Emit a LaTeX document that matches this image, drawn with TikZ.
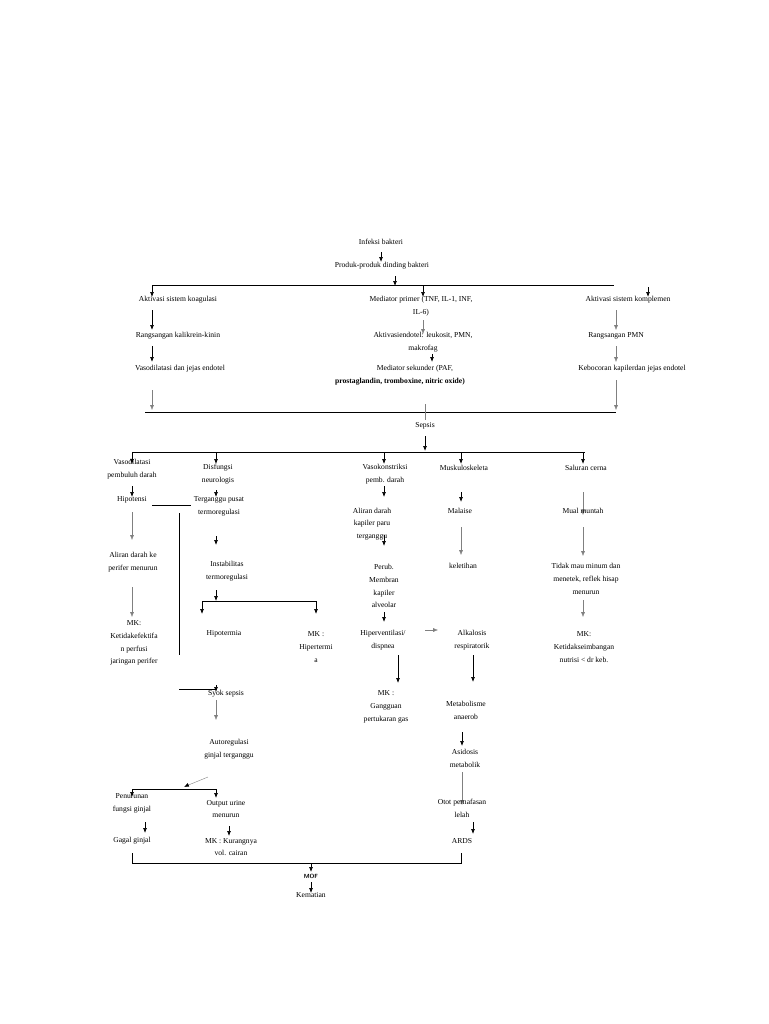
\documentclass[tikz,border=0pt]{standalone}
\usepackage{fontspec}
\setmainfont{Liberation Serif}
\begin{document}
\begin{tikzpicture}[x=1pt,y=-1pt,
  t/.style={inner sep=0pt,align=center,font=\fontsize{7.6}{12.8}\selectfont},
  a/.style={-{Latex[length=5pt,width=4pt]},line width=0.7pt},
  ag/.style={-{Latex[length=5pt,width=4pt]},line width=0.4pt,gray},
  ln/.style={line width=0.7pt}]
\useasboundingbox (0,0) rectangle (768,1024);
\usetikzlibrary{arrows.meta}
% top
\node[t] (inf) at (381,242) {Infeksi bakteri};
\node[t] (prod) at (382,266) {Produk-produk dinding bakteri};
\draw[a] (381,252) -- (381,262);
\draw[a] (395,276) -- (395,286);
\draw[ln] (152,285) -- (614,285);
\draw[a] (152,285) -- (152,297);
\draw[a] (423,285) -- (423,297);
\draw[a] (648,287) -- (648,297);
\node[t] (koag) at (178,300) {Aktivasi sistem koagulasi};
\node[t] (med) at (421,306) {Mediator primer (TNF, IL-1, INF,\\IL-6)};
\node[t] (komp) at (628,300) {Aktivasi sistem komplemen};
\draw[a] (152,310) -- (152,330);
\node[t] (kal) at (178,336) {Rangsangan kalikrein-kinin};
\draw[a] (152,346) -- (152,362);
\node[t] (vaso) at (180,369) {Vasodilatasi dan jejas endotel};
\draw[ag] (423,320) -- (423,334);
\node[t] (akt) at (423,342) {Aktivasiendotel: leukosit, PMN,\\makrofag};
\draw[a] (432,354) -- (432,362);
\node[t] (ms) at (400,375) {\hspace*{30pt}Mediator sekunder (PAF,\\\textbf{prostaglandin, tromboxine, nitric oxide)}};
\draw[ag] (616,310) -- (616,330);
\node[t] (rpmn) at (616,336) {Rangsangan PMN};
\draw[ag] (616,346) -- (616,362);
\node[t] (kebo) at (632,369) {Kebocoran kapilerdan jejas endotel};
\draw[ag] (152,390) -- (152,410);
\draw[ag] (616,380) -- (616,410);
\draw[ln] (145,412) -- (616,412);
\draw[gray] (425,404) -- (425,420);
\node[t] (sep) at (425,426) {Sepsis};
\draw[a] (425,436) -- (425,451);
\draw[ln] (132,452) -- (585,452);
\foreach \x in {132,216,384,461,583} \draw[a] (\x,452) -- (\x,464);
% col 1
\node[t] (vd) at (132,469) {Vasodilatasi\\pembuluh darah};
\draw[a] (132,486) -- (132,497);
\node[t] (hipo) at (132,500) {Hipotensi};
\draw (152,505) -- (191,505);
\draw[ag] (132,512) -- (132,540);
\node[t] (alir) at (133,562) {Aliran darah ke\\perifer menurun};
\draw[ag] (132,587) -- (132,617);
\node[t] (mk1) at (134,643) {MK:\\Ketidakefektifa\\n perfusi\\jaringan perifer};
\draw[ln] (179,513) -- (179,655);
% col 2
\node[t] (dis) at (218,474) {Disfungsi\\neurologis};
\draw[a] (216,490) -- (216,497);
\node[t] (terg) at (219,506) {Terganggu pusat\\termoregulasi};
\draw[a] (216,536) -- (216,545);
\node[t] (inst) at (227,571) {Instabilitas\\termoregulasi};
\draw[a] (216,590) -- (216,601);
\draw[ln] (202,601) -- (316,601);
\draw[a] (202,601) -- (202,614);
\draw[a] (316,601) -- (316,614);
\node[t] (hter) at (224,634) {Hipotermia};
\node[t] (mkh) at (316,647) {MK :\\Hipertermi\\a};
% syok
\draw[ln] (179,689) -- (216,689);
\node[t] (syok) at (226,694) {Syok sepsis};
\draw[a] (216,685) -- (216,692);
\draw[ag] (216,700) -- (216,720);
\node[t] (auto) at (229,749) {Autoregulasi\\ginjal terganggu};
\draw[gray] (208,777) -- (186,786);
\draw[a] (186,786) -- (184,787);
\draw[ln] (132,789) -- (216,789);
\draw[a] (132,789) -- (132,797);
\draw[a] (216,789) -- (216,798);
\node[t] (pen) at (132,803) {Penurunan\\fungsi ginjal};
\node[t] (out) at (226,809) {Output urine\\menurun};
\draw[a] (145,822) -- (145,833);
\draw[a] (229,826) -- (229,836);
\node[t] (gagal) at (132,841) {Gagal ginjal};
\node[t] (mkk) at (231,847) {MK : Kurangnya\\vol. cairan};
% col 3
\node[t] (vk) at (385,474) {Vasokonstriksi\\pemb. darah};
\draw[a] (384,486) -- (384,497);
\node[t] (ald) at (372,524) {Aliran darah\\kapiler paru\\terganggu};
\draw[a] (384,535) -- (384,546);
\node[t] (per) at (384,586) {Perub.\\Membran\\kapiler\\alveolar};
\draw[a] (384,612) -- (384,622);
\node[t] (hv) at (383,640) {Hiperventilasi/\\dispnea};
\draw[a] (398,655) -- (398,683);
\node[t] (mkg) at (386,707) {MK :\\Gangguan\\pertukaran gas};
\draw[ag] (425,630) -- (438,630);
% col 4
\node[t] (musk) at (464,468) {Muskuloskeleta};
\draw[a] (461,492) -- (461,502);
\node[t] (mal) at (460,511) {Malaise};
\draw[ag] (461,527) -- (461,555);
\node[t] (kel) at (463,566) {keletihan};
\node[t] (alk) at (472,640) {Alkalosis\\respiratorik};
\draw[a] (473,655) -- (473,682);
\node[t] (meta) at (466,710) {Metabolisme\\anaerob};
\draw[a] (462,732) -- (462,746);
\node[t] (asi) at (465,758) {Asidosis\\metabolik};
\draw[ag] (462,772) -- (462,805);
\node[t] (otot) at (462,808) {Otot pernafasan\\lelah};
\draw[a] (473,822) -- (473,834);
\node[t] (ards) at (462,841) {ARDS};
% col 5
\node[t] (sal) at (586,468) {Saluran cerna};
\draw[ag] (583,492) -- (583,515);
\node[t] (mual) at (583,511) {Mual muntah};
\draw[ag] (583,527) -- (583,556);
\node[t] (tid) at (586,579) {Tidak mau minum dan\\menetek, reflek hisap\\menurun};
\draw[ag] (583,600) -- (583,617);
\node[t] (mkn) at (584,647) {MK:\\Ketidakseimbangan\\nutrisi < dr keb.};
% bottom
\draw[ln] (132,853) -- (132,863) -- (461,863) -- (461,853);
\draw[a] (311,863) -- (311,872);
\node[t] (mof) at (311,876) {\textsf{\textbf{\fontsize{6}{7}\selectfont MOF}}};
\draw[a] (311,882) -- (311,893);
\node[t] (mati) at (311,895) {Kematian};
\end{tikzpicture}
\end{document}
